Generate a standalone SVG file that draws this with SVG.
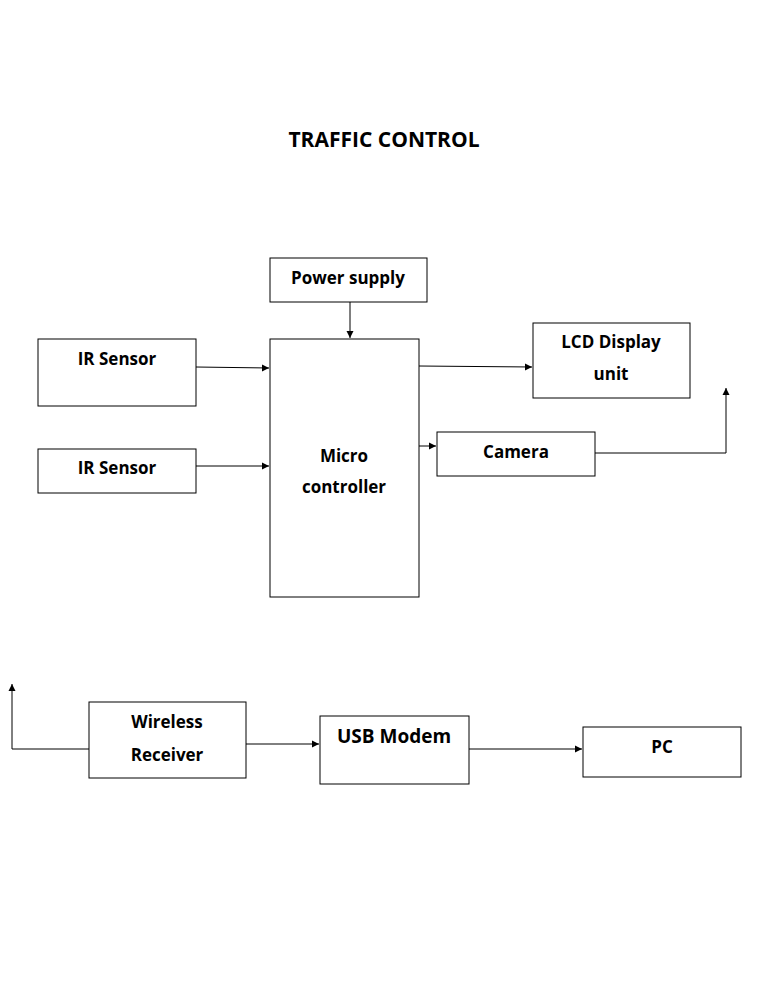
<svg xmlns="http://www.w3.org/2000/svg" width="768" height="994" viewBox="0 0 768 994">
<style>
rect{fill:#fff;stroke:#000;stroke-width:1}
text{font-family:"Open Sans","Liberation Sans",sans-serif;font-weight:bold;font-size:17px;text-anchor:middle;fill:#000}
.c{fill:none;stroke:#000;stroke-width:1}
</style>
<defs><marker id="a" markerWidth="8" markerHeight="8" refX="7" refY="4" orient="auto" markerUnits="userSpaceOnUse"><path d="M0,0.5L7,4L0,7.5z" fill="#000"/></marker></defs>
<rect width="768" height="994" style="stroke:none"/>
<text x="384" y="147" style="font-size:21px">TRAFFIC CONTROL</text>
<g id="power"><rect x="270" y="258" width="157" height="44"/><text x="348" y="284">Power supply</text></g>
<g id="micro"><rect x="270" y="339" width="149" height="258"/><text x="344" y="462">Micro</text><text x="344" y="493">controller</text></g>
<g id="ir1"><rect x="38" y="339" width="158" height="67"/><text x="117" y="365">IR Sensor</text></g>
<g id="ir2"><rect x="38" y="449" width="158" height="44"/><text x="117" y="474">IR Sensor</text></g>
<g id="lcd"><rect x="533" y="323" width="157" height="75"/><text x="611" y="348">LCD Display</text><text x="611" y="380">unit</text></g>
<g id="camera"><rect x="437" y="432" width="158" height="44"/><text x="516" y="458">Camera</text></g>
<g id="wireless"><rect x="89" y="702" width="157" height="76"/><text x="167" y="728">Wireless</text><text x="167" y="761">Receiver</text></g>
<g id="usb"><rect x="320" y="716" width="149" height="68"/><text x="394" y="743" style="font-size:19px">USB Modem</text></g>
<g id="pc"><rect x="583" y="727" width="158" height="50"/><text x="662" y="753">PC</text></g>
<g id="connectors">
<path class="c" marker-end="url(#a)" d="M350,302V338"/>
<path class="c" marker-end="url(#a)" d="M196,367L269,368"/>
<path class="c" marker-end="url(#a)" d="M196,466H269"/>
<path class="c" marker-end="url(#a)" d="M419,366L532,367"/>
<path class="c" marker-end="url(#a)" d="M419,446H436"/>
<path class="c" marker-end="url(#a)" d="M595,453H726V388"/>
<path class="c" marker-end="url(#a)" d="M89,749H12V684"/>
<path class="c" marker-end="url(#a)" d="M246,744H319"/>
<path class="c" marker-end="url(#a)" d="M469,749H582"/>
</g>
</svg>
